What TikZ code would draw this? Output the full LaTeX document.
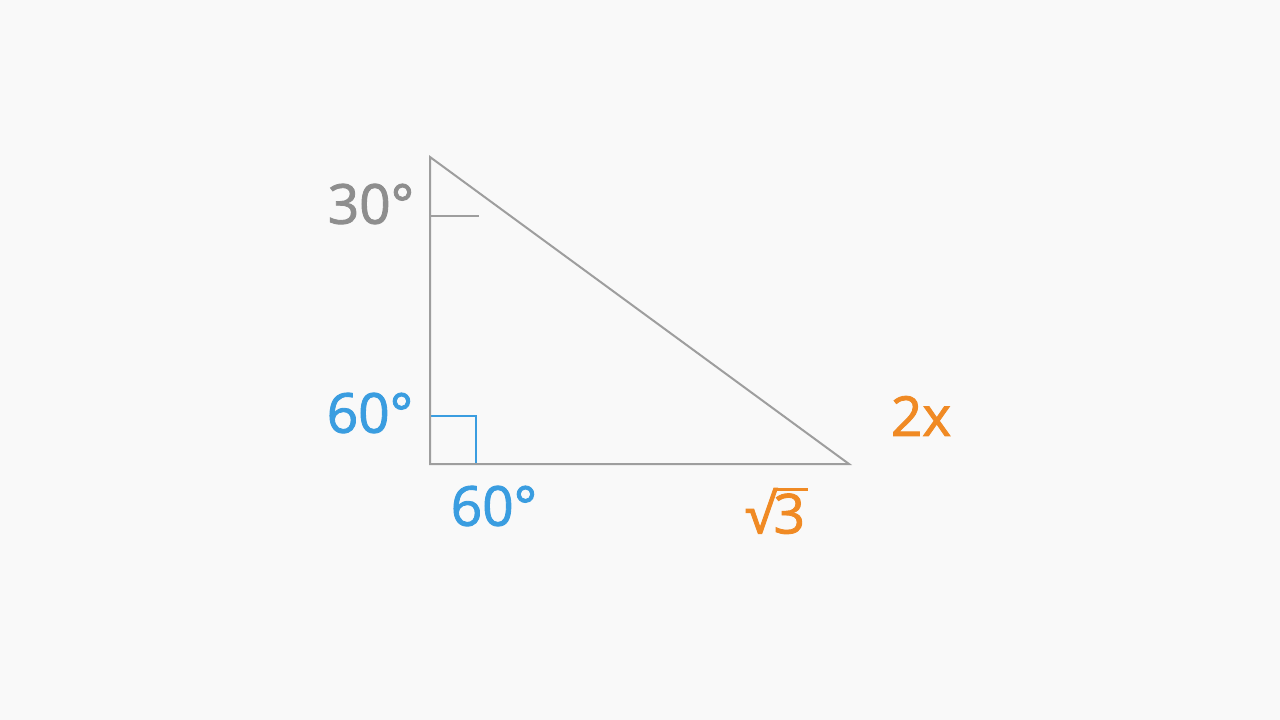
\documentclass[tikz,border=0pt]{standalone}
\usepackage{fontspec}
\setmainfont{Open Sans}
\newfontfamily\labfont{Open Sans}[FakeBold=1.6]
\definecolor{bgc}{HTML}{F9F9F9}
\definecolor{edgegray}{HTML}{9E9E9E}
\definecolor{labgray}{HTML}{8E8E8E}
\definecolor{myblue}{HTML}{3A9DE0}
\definecolor{myorange}{HTML}{F08A24}
\tikzset{
  edge/.style={draw=edgegray, line width=2pt},
  lab/.style={inner sep=0pt, font=\labfont\fontsize{55}{60}\selectfont},
  graylab/.style={lab, text=labgray},
  bluelab/.style={lab, text=myblue},
  orangelab/.style={lab, text=myorange},
}
\begin{document}
\begin{tikzpicture}[x=1pt,y=-1pt]
\fill[bgc] (0,0) rectangle (1280,720);
\useasboundingbox (0,0) rectangle (1280,720);
\coordinate (A) at (430,157);
\coordinate (B) at (430,464);
\coordinate (C) at (849,464);
\coordinate (t1) at (430,216);
\coordinate (t2) at (479,216);
\draw[draw=myblue, line width=2pt] (B) rectangle (476,416);
\draw[edge, line join=miter] (A) -- (B) -- (C) -- cycle;
\draw[edge] (t1) -- (t2);
\node[graylab] (l30) at (371,204) {30°};
\node[bluelab] (l60a) at (370,413) {60°};
\node[bluelab] (l60b) at (494,506) {60°};
\node[orangelab] (l2x) at (921,416) {2x};
\node[orangelab] (lr3) at (775,511) {√\kern-0.03em\makebox[0pt][l]{\rule[0.77em]{0.62em}{2.8pt}}3};
\end{tikzpicture}
\end{document}
